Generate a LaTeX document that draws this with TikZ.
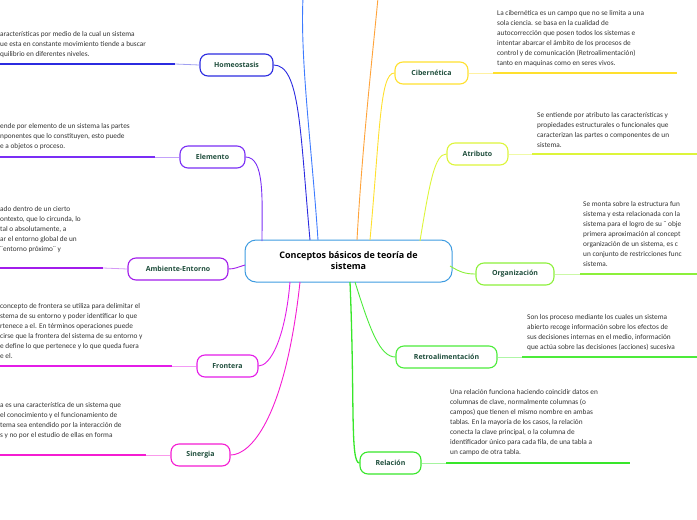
\documentclass[tikz,border=0pt]{standalone}
\usepackage{fontspec}
\setmainfont{Carlito}
\newfontfamily\labfont{Open Sans}
\definecolor{txt}{HTML}{333333}
\definecolor{lab}{HTML}{1E4D3B}
\definecolor{cHome}{HTML}{2B2BE0}
\definecolor{cElem}{HTML}{7A2EF5}
\definecolor{cAmb}{HTML}{A21CEB}
\definecolor{cFront}{HTML}{E41CE8}
\definecolor{cSin}{HTML}{F51CD2}
\definecolor{cCib}{HTML}{FFE02E}
\definecolor{cAtr}{HTML}{DDF53A}
\definecolor{cOrg}{HTML}{8CF03A}
\definecolor{cRet}{HTML}{4CEB3A}
\definecolor{cRel}{HTML}{38E62A}
\definecolor{cCen}{HTML}{3D9BE0}
\definecolor{cTop}{HTML}{3D7BFF}
\definecolor{cOra}{HTML}{FFA33A}
\begin{document}
\begin{tikzpicture}[x=1pt,y=-1pt,
  topic/.style={draw=#1,line width=1.1pt,rounded corners=8pt,minimum height=22pt,inner sep=0pt,font=\labfont\bfseries\fontsize{7}{8}\selectfont,text=lab},
  desc/.style={anchor=north west,inner sep=0pt,align=left,font=\fontsize{7.3}{10}\selectfont,text=txt},
  ul/.style={#1,line width=1.4pt},
  thin/.style={#1!45,line width=0.8pt},
  br/.style={#1,line width=0.9pt}]
\useasboundingbox (0,0) rectangle (697,520);
\begin{scope}
\clip (0,0) rectangle (697,520);
% center
\node[draw=cCen,line width=1pt,rounded corners=11pt,minimum width=207pt,minimum height=42pt,align=center,font=\labfont\bfseries\fontsize{9}{11}\selectfont,text=black] (c) at (348.5,261) {Conceptos básicos de teoría de\\sistema};
% topics
\node[topic=cHome,minimum width=73pt] (home) at (236.5,65) {Homeostasis};
\node[topic=cElem,minimum width=65pt] (elem) at (212.5,157) {Elemento};
\node[topic=cAmb,minimum width=100pt] (amb) at (178,269) {Ambiente-Entorno};
\node[topic=cFront,minimum width=61pt] (front) at (227.5,366) {Frontera};
\node[topic=cSin,minimum width=59pt] (sin) at (200.5,455) {Sinergia};
\node[topic=cCib,minimum width=73pt] (cib) at (431.5,73) {Cibernética};
\node[topic=cAtr,minimum width=61pt] (atr) at (477.5,154) {Atributo};
\node[topic=cOrg,minimum width=78pt] (org) at (515,274) {Organización};
\node[topic=cRet,minimum width=101pt] (ret) at (446.5,357) {Retroalimentación};
\node[topic=cRel,minimum width=61pt] (rel) at (390.5,463) {Relación};
% branch coordinates
\coordinate (bTop) at (318,240); \coordinate (tTop) at (303,-2);
\coordinate (bOra) at (357,240); \coordinate (tOra) at (378,-2);
\draw[br=cTop] (bTop) .. controls (312,150) and (300,60) .. (tTop);
\draw[br=cOra] (bOra) .. controls (362,150) and (372,60) .. (tOra);
\coordinate (sHome) at (310,240);
\draw[br=cHome] (sHome) .. controls (300,130) and (300,65) .. (home.east);
\coordinate (sElem) at (262,241);
\draw[br=cElem] (sElem) .. controls (262,200) and (265,157) .. (elem.east);
\coordinate (sAmb) at (245,265);
\draw[br=cAmb] (sAmb) .. controls (238,267) and (235,269) .. (amb.east);
\coordinate (sFront) at (290,282);
\draw[br=cFront] (sFront) .. controls (285,340) and (270,366) .. (front.east);
\coordinate (sSin) at (300,282);
\draw[br=cSin] (sSin) .. controls (285,420) and (250,455) .. (sin.east);
\coordinate (sRel) at (350,282);
\draw[br=cRel,line width=1.3pt] (sRel) .. controls (355,400) and (350,463) .. (rel.west);
\coordinate (sRet) at (355,282);
\draw[br=cRet] (sRet) .. controls (370,330) and (380,357) .. (ret.west);
\coordinate (sOrg) at (450,266);
\draw[br=cOrg] (sOrg) .. controls (460,272) and (465,274) .. (org.west);
\coordinate (sAtr) at (420,241);
\draw[br=cAtr] (sAtr) .. controls (430,180) and (435,154) .. (atr.west);
\coordinate (sCib) at (370,240);
\draw[br=cCib] (sCib) .. controls (380,130) and (380,73) .. (cib.west);
% underlines
\coordinate (uHome) at (175,64); \draw[thin=cHome] (uHome) -- (home.west); \draw[ul=cHome] (0,64) -- (uHome);
\coordinate (uElem) at (155,157); \draw[thin=cElem] (uElem) -- (elem.west); \draw[ul=cElem] (0,157) -- (uElem);
\coordinate (uAmb) at (103,268); \draw[thin=cAmb] (uAmb) -- (amb.west); \draw[ul=cAmb] (0,268) -- (uAmb);
\coordinate (uFront) at (172,366); \draw[thin=cFront] (uFront) -- (front.west); \draw[ul=cFront] (0,366) -- (uFront);
\coordinate (uSin) at (146,455); \draw[thin=cSin] (uSin) -- (sin.west); \draw[ul=cSin] (0,455) -- (uSin);
\coordinate (uCib) at (493,73); \draw[thin=cCib] (cib.east) -- (uCib); \draw[ul=cCib] (uCib) -- (677,73);
\coordinate (uAtr) at (532,154); \draw[thin=cAtr] (atr.east) -- (uAtr); \draw[ul=cAtr] (uAtr) -- (697,154);
\coordinate (uOrg) at (580,274); \draw[thin=cOrg] (org.east) -- (uOrg); \draw[ul=cOrg] (uOrg) -- (697,274);
\coordinate (uRet) at (522,357); \draw[thin=cRet] (ret.east) -- (uRet); \draw[ul=cRet] (uRet) -- (697,357);
\coordinate (uRel) at (446,463); \draw[thin=cRel] (rel.east) -- (uRel); \draw[ul=cRel] (uRel) -- (630,463);
% descriptions
\node[desc] (dHome) at (0,31) {aracterísticas por medio de la cual un sistema\\ue esta en constante movimiento tiende a buscar\\quilibrio en diferentes niveles.};
\node[desc] (dElem) at (0,123) {ende por elemento de un sistema las partes\\nponentes que lo constituyen, esto puede\\e a objetos o proceso.};
\node[desc] (dAmb) at (0,206) {ado dentro de un cierto\\ontexto, que lo circunda, lo\\tal o absolutamente, a\\ar el entorno global de un\\ ¨entorno próximo¨ y};
\node[desc] (dFront) at (0,303) {concepto de frontera se utiliza para delimitar el\\stema de su entorno y poder identificar lo que\\rtenece a el. En términos operaciones puede\\cirse que la frontera del sistema de su entorno y\\e define lo que pertenece y lo que queda fuera\\e el.};
\node[desc] (dSin) at (0,402) {a es una característica de un sistema que\\el conocimiento y el funcionamiento de\\tema sea entendido por la interacción de\\s y no por el estudio de ellas en forma};
\node[desc] (dCib) at (497,10) {La cibernética es un campo que no se limita a una\\sola ciencia. se basa en la cualidad de\\autocorrección que posen todos los sistemas e\\intentar abarcar el ámbito de los procesos de\\control y de comunicación (Retroalimentación)\\tanto en maquinas como en seres vivos.};
\node[desc] (dAtr) at (537,112) {Se entiende por atributo las características y\\propiedades estructurales o funcionales que\\caracterizan las partes o componentes de un\\sistema.};
\node[desc] (dOrg) at (583,201) {Se monta  sobre la estructura fun\\sistema y esta relacionada con la\\sistema para el logro de su ¨ obje\\primera aproximación al concept\\organización  de un sistema, es c\\un conjunto de restricciones func\\sistema.};
\node[desc] (dRet) at (527,314) {Son los proceso mediante los cuales un sistema\\abierto recoge información sobre los efectos de\\sus decisiones internas en el medio, información\\que actúa sobre las decisiones (acciones) sucesiva};
\node[desc] (dRel) at (450,389) {Una relación funciona haciendo coincidir datos en\\columnas de clave, normalmente columnas (o\\campos) que tienen el mismo nombre en ambas\\tablas. En la mayoría de los casos, la relación\\conecta la clave principal, o la columna de\\identificador único para cada fila, de una tabla a\\un campo de otra tabla.};
\end{scope}
\end{tikzpicture}
\end{document}
